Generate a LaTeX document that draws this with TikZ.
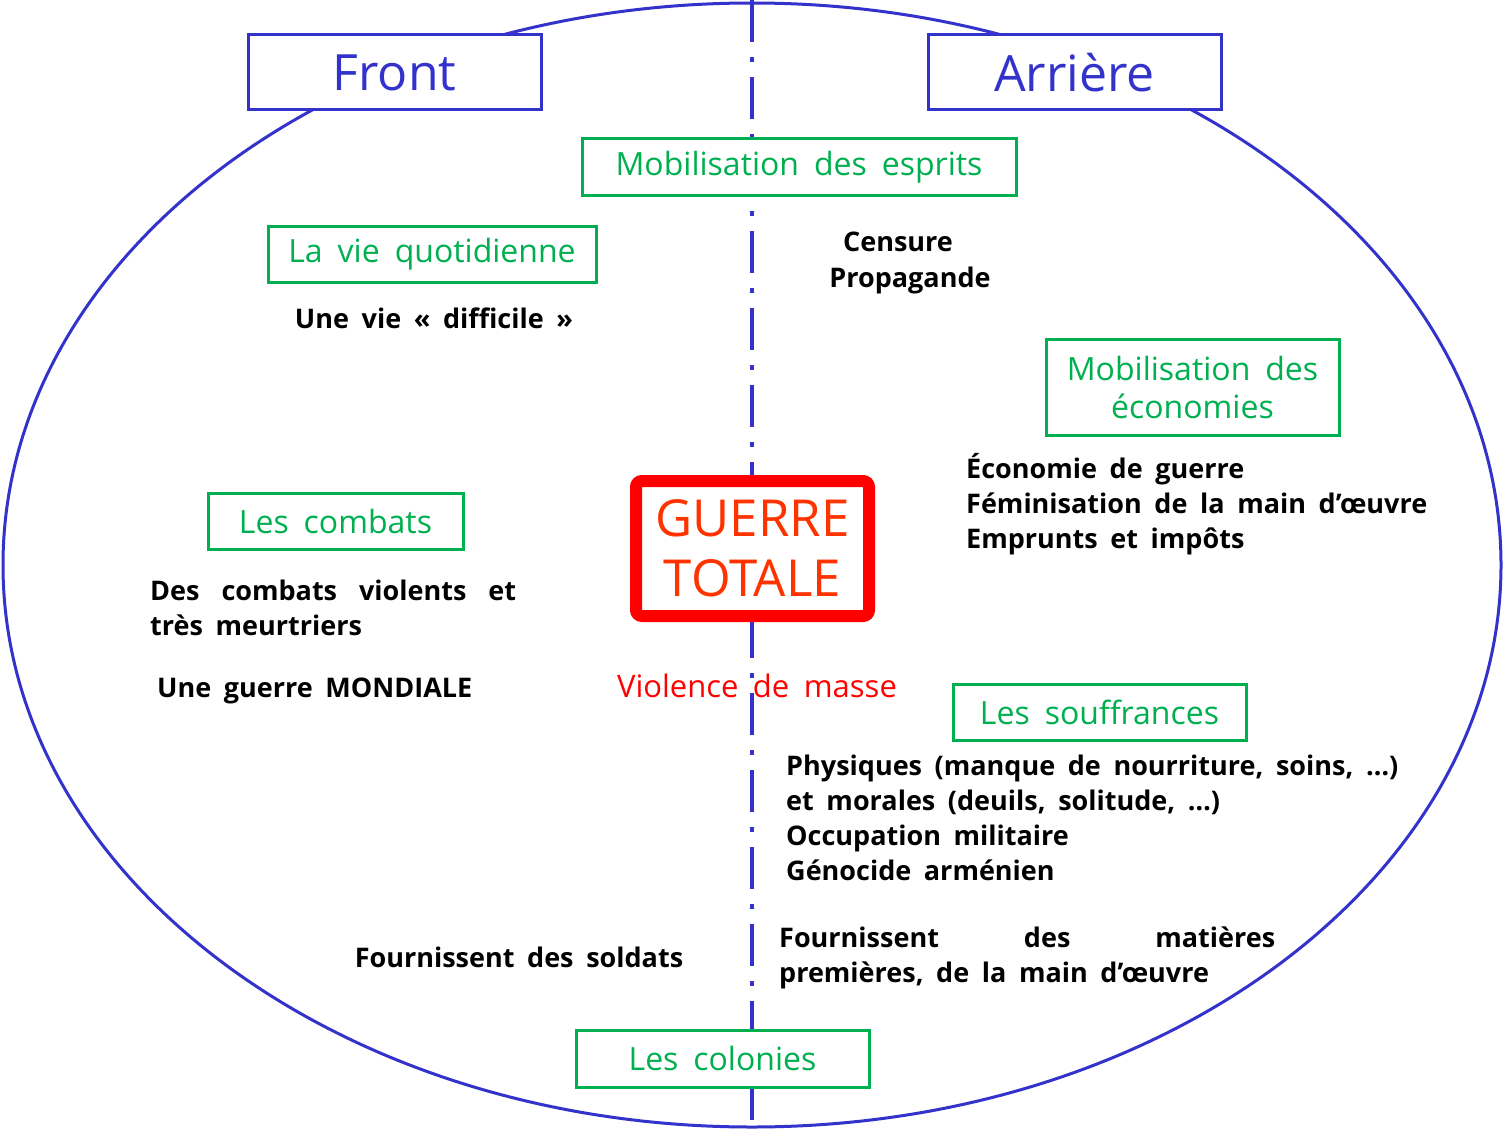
\documentclass[tikz,border=0pt]{standalone}
\usepackage{fontspec}
\setmainfont[WordSpace=1.8]{Open Sans}
\usepackage{tikz}
\usetikzlibrary{positioning}
\definecolor{bleucadre}{RGB}{51,51,204}
\definecolor{vertcadre}{RGB}{0,176,80}
\definecolor{rougeguerre}{RGB}{255,0,0}
\definecolor{orangeguerre}{RGB}{255,51,0}

\begin{document}
\begin{tikzpicture}[
	x=1pt, y=-1pt,
	camp/.style={rectangle, draw=bleucadre, fill=white, line width=3pt, minimum width=293pt, minimum height=75pt, text=bleucadre, font=\fontsize{50}{56}\selectfont},
	theme/.style={rectangle, draw=vertcadre, fill=white, line width=3pt, minimum height=56pt, text=vertcadre, align=center, font=\fontsize{32}{38}\selectfont},
	idee/.style={inner sep=0pt, align=left, font=\bfseries\fontsize{27}{35}\selectfont},
	axe/.style={bleucadre, line width=4pt, dash pattern=on 42pt off 15pt on 5pt off 15pt},
]
\useasboundingbox (0,0) rectangle (1504,1129);
% le cadre général
\draw[bleucadre, line width=3pt] (752,565) ellipse [x radius=749pt, y radius=562pt];
\coordinate (haut) at (752,0);
\coordinate (bas) at (752,1129);
\draw[axe] (haut) -- (bas);

% front / arrière
\node[camp] (front) at (394.5,72.5) {Front};
\node[camp] (arriere) at (1074.5,72.5) {Arrière};

% les thèmes
\node[theme, minimum width=434pt] (esprits) at (799,167) {Mobilisation des esprits};
\node[theme, minimum width=328pt] (quoti) at (432,254.5) {La vie quotidienne};
\node[theme, minimum width=293pt, minimum height=96pt] (eco) at (1192.5,387) {Mobilisation des\\économies};
\node[theme, minimum width=255pt] (combats) at (335.5,521) {Les combats};
\node[theme, minimum width=293pt] (souff) at (1099.5,712) {Les souffrances};
\node[theme, minimum width=293pt, minimum height=57pt] (colo) at (722.5,1058.5) {Les colonies};

\node[rectangle, rounded corners=6pt, draw=rougeguerre, fill=white, line width=12pt, minimum width=233pt, minimum height=135pt, align=center, text=orangeguerre, font=\fontsize{51}{60}\selectfont] (guerre) at (752.5,548.5) {GUERRE\\TOTALE};
\node[text=rougeguerre, inner sep=0pt, font=\fontsize{31}{38}\selectfont] (masse) at (757,686) {Violence de masse};

% les idées
\node[idee] (censure) at (898,242) {Censure};
\node[idee] (propa) at (910,280) {Propagande};
\node[idee] (difficile) at (434,318) {Une vie « difficile »};
\node[idee, anchor=west] (ecoguerre) at (966,504) {Économie de guerre\\Féminisation de la main d’œuvre\\Emprunts et impôts};
\node[idee, anchor=west] (meurtre) at (150,607.5) {\makebox[366pt][s]{Des combats violents et}\\très meurtriers};
\node[idee, anchor=west] (mondiale) at (157,691) {Une guerre MONDIALE};
\node[idee, anchor=west] (physiques) at (786,817.5) {Physiques (manque de nourriture, soins, …)\\et morales (deuils, solitude, …)\\Occupation militaire\\Génocide arménien};
\node[idee] (soldats) at (519,957) {Fournissent des soldats};
\node[idee, anchor=west] (matieres) at (779,957.5) {\makebox[496pt][s]{Fournissent des matières}\\premières, de la main d’œuvre};
\end{tikzpicture}
\end{document}
